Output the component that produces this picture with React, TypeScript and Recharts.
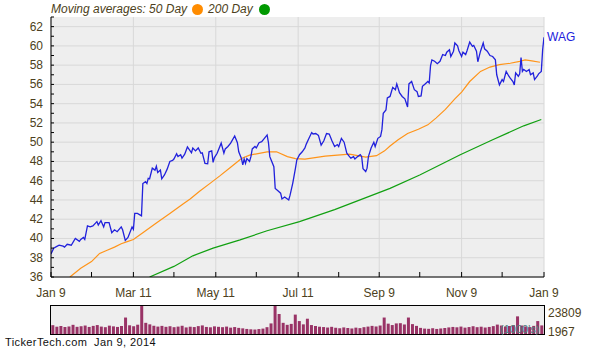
import {
  LineChart,
  Line,
  XAxis,
  YAxis,
  CartesianGrid,
  LabelList,
  BarChart,
  Bar,
} from 'recharts';

// day offset from Jan 9 2013, closing price
const wagPrice: [number, number][] = [
  [0, 38.4], [2, 39.0], [4, 39.15], [6, 39.3], [9, 39.2], [10, 39.1], [12, 39.4], [15, 39.3], [18, 40.0], [21, 39.7],
  [22, 39.9], [24, 40.1], [25, 39.9], [27, 41.3], [29, 41.2], [31, 41.3], [34, 41.75], [35, 41.4], [37, 41.85], [39, 41.2],
  [40, 41.65], [43, 41.65], [45, 40.6], [47, 40.9], [49, 40.7], [52, 41.2], [53, 40.9], [55, 39.8], [57, 40.1], [60, 41.2],
  [61, 40.95], [62, 42.6], [64, 42.6], [67, 42.35], [68, 45.7], [70, 45.9], [71, 45.7], [72, 46.25], [73, 46.2], [75, 47.3],
  [77, 47.1], [78, 47.5], [79, 46.85], [81, 47.1], [82, 46.2], [84, 46.6], [86, 47.2], [88, 48.0], [90, 48.1], [91, 48.25],
  [93, 48.8], [94, 48.5], [96, 48.7], [97, 48.35], [99, 48.75], [101, 49.5], [102, 49.3], [104, 48.9], [105, 49.4], [107, 49.1],
  [109, 49.4], [111, 48.85], [112, 48.9], [114, 47.8], [116, 47.75], [117, 49.0], [119, 49.1], [120, 47.9], [121, 48.4], [123, 48.85],
  [126, 49.9], [128, 48.85], [129, 49.3], [131, 49.55], [133, 49.9], [136, 50.65], [138, 49.95], [139, 49.0], [141, 48.3], [142, 47.65],
  [143, 48.25], [144, 47.8], [145, 48.3], [147, 48.0], [148, 48.5], [149, 49.3], [151, 49.55], [152, 49.4], [154, 49.95], [156, 50.05],
  [158, 50.4], [160, 50.75], [161, 49.95], [162, 48.5], [163, 48.15], [165, 47.45], [166, 45.2], [168, 44.95], [170, 44.7], [171, 44.1],
  [173, 44.3], [174, 44.2], [176, 44.0], [177, 44.5], [179, 45.75], [181, 47.3], [182, 48.15], [184, 48.7], [186, 49.0], [188, 49.4],
  [189, 49.8], [191, 50.4], [193, 51.0], [194, 50.85], [196, 50.9], [198, 50.7], [200, 49.7], [202, 50.15], [204, 50.9], [206, 50.85],
  [208, 50.15], [210, 49.55], [212, 49.75], [213, 49.55], [215, 50.4], [217, 50.0], [219, 48.85], [221, 48.5], [222, 48.35], [224, 48.5],
  [225, 48.25], [227, 48.5], [229, 48.7], [230, 48.5], [231, 47.25], [233, 46.95], [234, 47.3], [235, 48.5], [237, 49.4], [239, 50.0],
  [240, 49.55], [242, 50.4], [244, 50.6], [245, 51.3], [246, 53.0], [248, 53.35], [249, 54.6], [251, 54.75], [253, 55.7], [255, 55.45],
  [256, 56.05], [258, 55.15], [260, 54.75], [262, 54.5], [264, 53.65], [265, 56.05], [267, 56.3], [269, 55.45], [271, 55.25], [272, 54.75],
  [274, 54.8], [275, 55.8], [277, 56.05], [279, 56.3], [280, 56.15], [281, 57.95], [282, 58.55], [284, 58.4], [286, 58.15], [288, 58.4],
  [290, 59.1], [292, 59.0], [293, 59.35], [295, 59.6], [296, 58.9], [298, 59.45], [299, 60.3], [301, 60.0], [302, 59.5], [304, 58.9],
  [305, 59.35], [307, 59.1], [308, 59.5], [310, 60.4], [312, 59.95], [313, 60.05], [315, 59.45], [316, 58.35], [318, 59.45], [320, 60.3],
  [321, 59.7], [323, 59.45], [325, 59.0], [327, 58.9], [329, 58.55], [330, 57.0], [332, 55.95], [334, 56.5], [335, 56.3], [337, 57.35],
  [339, 56.85], [340, 56.65], [342, 56.3], [343, 55.95], [344, 57.2], [346, 56.85], [347, 57.1], [348, 58.8], [349, 57.35], [350, 57.55],
  [352, 57.35], [354, 57.55], [355, 57.0], [357, 57.2], [358, 56.5], [360, 56.85], [361, 57.1], [363, 57.35], [364, 59.6], [365, 60.9],
];

const ma50: [number, number][] = [
  [14, 36.0], [22, 36.9], [30, 37.6], [36, 38.45], [42, 38.8], [47, 39.1], [52, 39.45], [57, 39.7], [61, 39.9], [68, 40.6],
  [78, 41.6], [88, 42.6], [98, 43.6], [103, 44.1], [110, 44.9], [118, 45.75], [125, 46.5], [133, 47.4], [141, 48.3], [147, 48.65],
  [160, 49.0], [167, 49.0], [175, 48.5], [181, 48.3], [188, 48.25], [203, 48.55], [221, 48.75], [233, 48.45], [241, 48.6], [247, 49.1],
  [251, 49.6], [257, 50.25], [264, 50.9], [272, 51.35], [279, 51.8], [285, 52.5], [292, 53.4], [299, 54.5], [304, 55.2], [310, 56.3],
  [318, 57.35], [325, 57.8], [332, 58.05], [340, 58.2], [347, 58.4], [351, 58.55], [356, 58.45], [362, 58.3],
];

const ma200: [number, number][] = [
  [73, 36.0], [91, 37.1], [105, 38.2], [120, 39.0], [140, 39.85], [160, 40.8], [184, 41.75], [210, 43.0], [251, 45.2], [273, 46.6],
  [303, 48.7], [327, 50.25], [350, 51.7], [363, 52.35],
];

// volume in 1000's, roughly every third day
const volume = [
  7500, 6200, 6800, 5900, 6400, 7800, 6100, 6600, 7200, 6000,
  6900, 7600, 6300, 5800, 7100, 6500, 6000, 6800, 14000, 7400,
  6600, 7900, 23809, 9500, 8200, 7000, 6300, 6900, 6100, 6600,
  5800, 6300, 7000, 5600, 6200, 5900, 6700, 7300, 6000, 5700,
  6500, 6100, 5800, 6300, 5400, 5900, 5200, 4800, 4300, 4000,
  3800, 4200, 4600, 5800, 9000, 23809, 17000, 9500, 7800, 8600,
  16500, 11000, 8200, 13000, 7600, 6800, 6200, 5900, 5500, 6100,
  5300, 4900, 5600, 5100, 4700, 5400, 5000, 5800, 6300, 6900,
  6400, 7200, 14000, 8800, 7600, 9000, 9200, 8100, 14000, 8400,
  6900, 5200, 4600, 4400, 4900, 4300, 4700, 5100, 5600, 6000,
  5700, 6300, 5400, 5900, 6600, 5800, 6200, 5500, 6000, 6700,
  8000, 7200, 6300, 6800, 7500, 15000, 7200, 6400, 5900, 6900,
  11000, 7300,
];

const majorDays = [0, 61, 122, 183, 243, 304, 365];
const majorLabels = ['Jan 9', 'Mar 11', 'May 11', 'Jul 11', 'Sep 9', 'Nov 9', 'Jan 9'];
const minorDays = [30, 91, 152, 213, 273, 334];
const priceTicks = [36, 37, 38, 39, 40, 41, 42, 43, 44, 45, 46, 47, 48, 49, 50, 51, 52, 53, 54, 55, 56, 57, 58, 59, 60, 61, 62, 63];
const gridPrices = [36, 38, 40, 42, 44, 46, 48, 50, 52, 54, 56, 58, 60, 62];
const volumeTicks = [1967, 23809];

const FONT = '"Liberation Sans", Arial, sans-serif';
const LABEL = '#4d3f20';
const BLUE = '#2121dc';
const ORANGE = '#ff9419';
const GREEN = '#11a011';

const toRows = (pairs: [number, number][]) => pairs.map(([day, value]) => ({ day, value }));

function PriceTick(props: any) {
  const { x, y, payload } = props;
  const v = payload.value;
  return (
    <g>
      <line x1={x + 8} x2={x + 11} y1={y} y2={y} stroke="#000" />
      {v % 2 === 0 && (
        <text x={x} y={y} dy={4} textAnchor="end" fill={LABEL} fontSize={12} fontFamily={FONT}>
          {v}
        </text>
      )}
    </g>
  );
}

function DayTick(props: any) {
  const { x, y, payload } = props;
  const i = majorDays.indexOf(payload.value);
  return (
    <g>
      <line x1={x} x2={x} y1={y - 5} y2={y} stroke="#000" />
      {i >= 0 && (
        <text x={x} y={y + 20} textAnchor="middle" fill={LABEL} fontSize={12} fontFamily={FONT}>
          {majorLabels[i]}
        </text>
      )}
    </g>
  );
}

function VolumeTick(props: any) {
  const { x, y, payload } = props;
  return (
    <text x={x} y={y} dy={payload.value === 23809 ? 11 : 4} fill={LABEL} fontSize={12} fontFamily={FONT}>
      {payload.value}
    </text>
  );
}

export default function App() {
  const priceRows = toRows(wagPrice);
  const ma50Rows = toRows(ma50);
  const ma200Rows = toRows(ma200);
  const volumeRows = volume.map((v, i) => ({ i, v }));
  const last = priceRows.length - 1;

  return (
    <div style={{ position: 'relative', width: 600, height: 350, background: '#fff', fontFamily: FONT }}>
      <style>{'body{margin:0}'}</style>

      <div
        style={{
          position: 'absolute',
          left: 51,
          top: 2,
          display: 'flex',
          alignItems: 'center',
          fontSize: 12,
          fontStyle: 'italic',
          color: LABEL,
          lineHeight: '15px',
        }}
      >
        <span>Moving averages: 50 Day</span>
        <span style={{ width: 11, height: 11, borderRadius: 6, background: '#ff8c00', margin: '0 5px' }} />
        <span>200 Day</span>
        <span style={{ width: 11, height: 11, borderRadius: 6, background: '#009900', marginLeft: 6 }} />
      </div>

      <div style={{ position: 'absolute', left: 0, top: 0 }}>
        <LineChart width={600} height={300} margin={{ top: 17, right: 56, bottom: 0, left: 0 }}>
          <CartesianGrid
            fill="#eeeeee"
            stroke="#d8d8d8"
            horizontalValues={gridPrices}
            verticalValues={majorDays}
          />
          <XAxis
            type="number"
            dataKey="day"
            domain={[0, 365]}
            ticks={[...majorDays, ...minorDays].sort((a, b) => a - b)}
            tick={<DayTick />}
            interval={0}
            tickSize={0}
            tickMargin={0}
            tickLine={false}
            height={23}
            axisLine={{ stroke: '#000' }}
            allowDataOverflow
          />
          <YAxis
            type="number"
            domain={[36, 63]}
            ticks={priceTicks}
            tick={<PriceTick />}
            tickSize={0}
            tickMargin={8}
            tickLine={false}
            width={51}
            interval={0}
            axisLine={{ stroke: '#000' }}
            allowDataOverflow
          />
          <Line data={ma200Rows} dataKey="value" stroke={GREEN} strokeWidth={1.2} dot={false} isAnimationActive={false} />
          <Line data={ma50Rows} dataKey="value" stroke={ORANGE} strokeWidth={1.2} dot={false} isAnimationActive={false} />
          <Line data={priceRows} dataKey="value" stroke={BLUE} strokeWidth={1.3} dot={false} isAnimationActive={false}>
            <LabelList
              dataKey="value"
              content={(p: any) =>
                p.index === last ? (
                  <text x={p.x + 3} y={p.y + 4} fill={BLUE} fontSize={12} fontFamily={FONT}>
                    WAG
                  </text>
                ) : null
              }
            />
          </Line>
        </LineChart>
      </div>

      <div
        style={{
          position: 'absolute',
          left: 50,
          top: 305,
          width: 495,
          height: 30,
          boxSizing: 'border-box',
          border: '1px solid #000',
          background: '#eeeeee',
        }}
      />
      <div style={{ position: 'absolute', left: 0, top: 300 }}>
        <BarChart width={600} height={45} data={volumeRows} margin={{ top: 6, right: 0, bottom: 11, left: 51 }} barCategoryGap="8%">
          <XAxis dataKey="i" hide />
          <YAxis
            orientation="right"
            domain={[0, 23809]}
            ticks={volumeTicks}
            tick={<VolumeTick />}
            tickSize={0}
            tickMargin={4}
            tickLine={false}
            axisLine={false}
            width={56}
            interval={0}
          />
          <Bar dataKey="v" fill="#993366" isAnimationActive={false} />
        </BarChart>
      </div>
      <div style={{ position: 'absolute', left: 500, top: 323, fontSize: 11, color: '#4f8080' }}>(1000's)</div>

      <div
        style={{
          position: 'absolute',
          left: 5,
          top: 336,
          fontSize: 11,
          color: '#111',
          letterSpacing: 0.4,
          whiteSpace: 'pre',
        }}
      >
        {'TickerTech.com  Jan 9, 2014'}
      </div>
    </div>
  );
}
